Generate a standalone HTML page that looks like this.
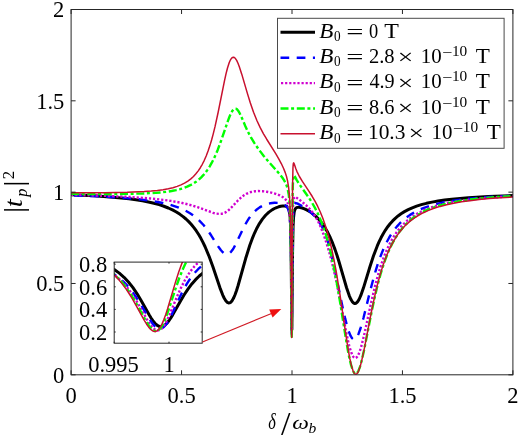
<!DOCTYPE html>
<html><head><meta charset="utf-8"><style>
html,body{margin:0;padding:0;background:#fff;}
svg{display:block;}
text{font-family:"Liberation Serif","DejaVu Serif",serif;fill:#000;}
</style></head><body>
<svg width="520" height="438" viewBox="0 0 520 438">
<rect width="520" height="438" fill="#fff"/>
<defs><clipPath id="cm"><rect x="71.1" y="9.50" width="441.80" height="365.30"/></clipPath>
<clipPath id="ci"><rect x="114.2" y="262.1" width="88.0" height="81.1"/></clipPath></defs>
<g clip-path="url(#cm)">
<polyline fill="none" stroke="#000" stroke-width="3" stroke-dashoffset="0" stroke-linejoin="round" points="71.10,194.85 94.07,195.86 113.07,197.15 128.98,198.76 135.93,199.70 142.45,200.76 148.42,201.93 153.94,203.22 159.13,204.68 163.88,206.25 168.30,207.99 172.49,209.93 176.36,212.03 180.00,214.34 183.10,216.61 185.97,219.01 188.73,221.64 191.38,224.50 193.92,227.60 196.35,230.95 198.67,234.53 200.88,238.33 202.98,242.33 205.08,246.73 209.16,256.53 212.81,266.57 219.88,287.59 222.75,295.06 224.40,298.51 225.95,300.94 227.39,302.38 228.16,302.80 228.82,302.94 229.60,302.85 230.37,302.48 231.14,301.84 231.92,300.92 233.46,298.31 235.12,294.48 236.55,290.43 238.10,285.49 245.72,258.32 249.81,245.29 252.13,238.91 254.56,233.03 256.99,227.95 259.42,223.60 262.40,219.14 265.60,215.28 268.92,212.15 272.45,209.61 274.44,208.50 276.54,207.54 278.64,206.80 280.73,206.27 282.72,205.98 284.49,205.95 285.93,206.18 287.03,206.66 287.80,207.31 288.47,208.28 289.01,209.61 289.44,211.36 290.09,216.46 290.55,224.55 290.86,235.78 291.12,251.81 291.84,329.69 292.55,252.82 293.09,225.94 293.52,217.71 294.12,212.49 294.51,210.73 294.99,209.40 295.53,208.49 296.31,207.78 297.30,207.38 298.63,207.27 300.28,207.48 302.27,208.00 304.48,208.82 306.69,209.84 309.01,211.12 311.22,212.56 315.08,215.61 318.62,219.12 321.93,223.16 325.13,227.90 327.68,232.36 330.22,237.53 332.65,243.21 334.97,249.36 337.06,255.53 339.16,262.25 346.56,287.75 349.32,295.83 350.87,299.32 352.31,301.69 353.08,302.57 353.74,303.09 354.40,303.40 355.07,303.47 355.73,303.32 356.39,302.96 357.06,302.37 357.83,301.43 359.26,298.99 360.81,295.48 363.57,287.60 370.09,266.19 373.51,255.81 377.27,245.97 379.15,241.68 381.13,237.58 383.23,233.71 385.44,230.08 387.76,226.72 390.08,223.76 392.62,220.91 395.27,218.32 398.03,215.98 401.01,213.79 404.44,211.63 408.19,209.62 412.28,207.79 416.59,206.17 421.34,204.67 426.42,203.34 431.94,202.14 438.01,201.05 444.64,200.07 451.82,199.20 468.39,197.71 488.49,196.52 512.90,195.56"/>
<polyline fill="none" stroke="#0000ff" stroke-width="2.4" stroke-dasharray="8.7 7.5" stroke-dashoffset="13.25" stroke-linejoin="round" points="71.10,195.36 92.53,196.11 110.86,197.01 126.44,198.09 139.91,199.37 151.51,200.90 161.56,202.70 170.28,204.83 174.26,206.04 178.02,207.36 184.09,209.97 186.96,211.45 189.61,213.00 192.26,214.74 194.69,216.53 197.01,218.44 199.33,220.56 203.53,225.03 207.62,230.21 211.26,235.52 218.22,246.49 220.98,250.31 222.53,252.03 223.96,253.24 225.29,253.97 226.61,254.27 228.05,254.06 229.49,253.29 231.03,251.84 232.58,249.80 233.90,247.65 235.45,244.77 242.96,228.94 244.95,225.08 246.94,221.57 249.26,217.95 251.58,214.84 254.01,212.08 256.44,209.80 259.64,207.41 262.95,205.57 266.60,204.16 270.35,203.25 274.55,202.81 278.64,202.95 280.51,203.25 282.17,203.66 283.61,204.20 284.82,204.85 286.15,205.90 287.14,207.12 287.91,208.55 288.58,210.41 289.12,212.77 289.57,215.71 290.24,223.98 290.69,235.82 291.03,253.27 291.81,333.04 292.54,240.65 292.82,223.04 293.19,212.28 293.71,206.36 294.07,204.67 294.53,203.63 295.09,203.13 295.87,203.04 296.97,203.36 298.74,204.18 303.38,206.81 307.46,209.58 311.11,212.56 314.42,215.84 317.40,219.44 320.05,223.35 322.37,227.53 324.58,232.39 326.35,237.06 328.01,242.15 329.77,248.38 331.54,255.39 334.85,270.16 343.03,309.26 345.13,318.42 346.89,325.31 348.88,331.74 350.65,335.97 351.53,337.48 352.42,338.56 353.30,339.19 354.07,339.36 354.85,339.19 355.62,338.67 356.39,337.82 357.17,336.66 358.71,333.43 360.48,328.49 363.46,317.98 370.42,289.88 374.06,276.23 376.16,269.14 378.15,262.96 380.14,257.32 382.24,251.92 384.45,246.81 386.66,242.23 389.09,237.75 391.52,233.79 394.06,230.12 396.82,226.62 399.69,223.44 402.67,220.56 406.21,217.61 410.07,214.86 414.16,212.40 418.58,210.15 423.33,208.12 428.41,206.30 433.93,204.65 440.00,203.14 446.52,201.81 453.59,200.62 461.32,199.55 469.82,198.59 479.10,197.74 489.26,196.98 512.90,195.72"/>
<polyline fill="none" stroke="#d000d0" stroke-width="2.4" stroke-dasharray="2.2 1.9" stroke-dashoffset="0" stroke-linejoin="round" points="71.10,194.82 101.92,195.70 126.99,196.82 147.42,198.22 156.26,199.06 164.32,200.00 170.84,200.92 176.80,201.92 182.43,203.04 187.74,204.29 192.71,205.65 197.68,207.21 213.14,212.83 216.45,213.66 219.32,213.95 221.31,213.82 223.19,213.38 224.96,212.65 226.83,211.54 228.49,210.27 230.37,208.56 238.10,200.29 241.97,196.74 244.18,195.12 246.38,193.82 248.70,192.77 251.13,191.98 254.56,191.31 258.20,191.05 262.29,191.19 266.60,191.71 271.35,192.65 275.76,193.89 279.63,195.36 282.61,196.94 284.49,198.34 285.93,199.85 287.03,201.54 287.91,203.56 288.58,205.83 289.17,208.92 289.62,212.59 289.99,217.14 290.54,229.57 290.94,248.48 291.77,335.74 292.43,240.66 292.89,210.80 293.26,202.83 293.78,198.57 294.13,197.50 294.57,196.95 295.15,196.86 295.98,197.20 301.39,201.27 306.03,205.20 309.56,208.73 312.65,212.47 315.42,216.54 318.07,221.32 320.61,226.83 323.26,233.54 326.13,241.88 328.89,250.94 331.54,260.69 334.08,271.13 336.18,280.61 338.39,291.38 346.23,332.49 347.78,339.77 349.10,345.31 350.76,351.07 352.31,355.01 353.08,356.40 353.85,357.38 354.63,357.93 355.29,358.08 355.95,357.91 356.72,357.33 357.39,356.51 358.16,355.20 359.71,351.51 361.36,346.21 364.23,334.65 371.19,302.48 374.73,287.38 376.72,279.69 378.70,272.62 380.69,266.18 382.79,260.01 385.00,254.19 387.21,248.97 389.53,244.10 391.96,239.57 394.50,235.38 397.26,231.39 400.13,227.76 403.11,224.48 406.65,221.12 410.51,217.99 414.60,215.19 419.02,212.64 423.77,210.33 428.85,208.26 434.37,206.39 440.33,204.71 446.85,203.18 453.92,201.83 461.65,200.61 470.05,199.53 479.21,198.57 489.37,197.71 512.90,196.27"/>
<polyline fill="none" stroke="#00ff00" stroke-width="2.4" stroke-dasharray="8 2.6 3 2.7" stroke-dashoffset="0" stroke-linejoin="round" points="71.10,193.90 104.35,194.01 126.21,193.90 142.78,193.53 155.82,192.85 161.67,192.35 166.86,191.75 171.61,191.03 176.03,190.16 180.00,189.17 183.76,188.01 187.18,186.70 190.39,185.21 193.26,183.60 196.02,181.77 198.56,179.79 200.99,177.59 203.31,175.16 205.52,172.50 207.62,169.62 209.71,166.36 211.81,162.68 213.80,158.78 215.79,154.45 217.78,149.69 221.31,140.21 227.94,120.80 229.37,117.00 230.70,113.92 232.25,111.06 233.68,109.32 234.46,108.81 235.12,108.62 235.78,108.66 236.55,109.01 237.22,109.55 237.99,110.44 239.65,113.17 241.08,116.17 245.39,126.21 247.93,131.68 250.80,137.15 254.12,142.67 258.53,149.14 263.72,155.91 268.92,162.07 278.64,172.95 282.28,177.52 284.16,180.36 285.59,183.08 286.81,186.11 287.69,189.15 288.71,194.49 289.46,201.30 290.03,210.30 290.46,222.36 291.02,255.38 291.73,336.79 291.91,320.61 292.33,227.36 292.61,196.84 292.83,185.93 293.10,179.25 293.48,175.96 293.73,175.32 294.04,175.25 294.60,175.97 296.75,180.10 298.52,183.06 309.23,198.26 312.21,202.99 314.97,207.86 317.96,213.82 320.72,220.15 323.37,227.14 325.80,234.47 328.23,242.85 330.66,252.40 332.98,262.74 335.19,273.75 339.16,296.36 346.45,342.26 348.00,351.06 349.43,358.31 351.09,365.23 352.64,369.98 353.41,371.67 354.18,372.87 354.96,373.58 355.73,373.79 356.39,373.59 357.17,372.91 357.83,371.96 358.60,370.45 360.04,366.58 361.69,360.66 364.46,348.33 371.30,313.40 374.84,296.72 376.83,288.23 378.81,280.42 380.80,273.30 382.90,266.49 385.11,260.05 387.32,254.28 389.75,248.64 392.18,243.66 394.72,239.05 397.48,234.65 400.35,230.65 403.44,226.90 406.98,223.21 410.84,219.77 414.93,216.69 419.24,213.94 423.99,211.40 429.07,209.12 434.59,207.05 440.56,205.20 446.96,203.56 454.03,202.06 461.76,200.73 470.16,199.55 479.32,198.51 489.48,197.58 500.64,196.77 512.90,196.05"/>
<polyline fill="none" stroke="#c8102e" stroke-width="1.5" stroke-dashoffset="0" stroke-linejoin="round" points="71.10,192.80 104.46,192.69 127.21,192.32 144.22,191.62 151.18,191.12 157.36,190.50 163.10,189.72 168.30,188.78 172.93,187.67 177.13,186.38 181.00,184.86 184.53,183.13 187.85,181.10 190.83,178.86 193.48,176.45 195.91,173.82 198.23,170.85 200.33,167.71 202.31,164.27 204.30,160.31 206.18,156.01 208.06,151.10 209.83,145.86 211.59,139.98 213.25,133.85 215.02,126.65 218.11,112.50 224.52,80.56 226.06,73.66 227.50,68.05 229.26,62.57 230.15,60.51 230.92,59.10 231.69,58.09 232.58,57.40 233.46,57.22 234.35,57.53 235.45,58.55 236.66,60.43 237.99,63.23 239.32,66.68 241.75,74.16 247.38,93.38 250.36,102.96 253.56,112.20 256.88,120.50 260.08,127.43 263.50,133.86 266.71,139.24 275.87,153.82 278.75,158.78 281.29,163.55 283.50,168.20 285.26,172.62 286.59,176.82 287.58,181.02 288.58,187.15 289.37,195.16 289.95,205.12 290.39,218.16 290.98,253.18 291.71,337.44 291.87,323.40 292.27,226.22 292.54,187.44 292.96,167.76 293.27,163.89 293.46,163.07 293.70,162.91 294.19,163.81 295.76,168.46 296.86,171.30 299.40,176.50 302.38,181.43 309.01,191.33 311.99,196.02 314.97,201.14 317.73,206.46 320.28,211.98 322.71,217.99 325.02,224.51 327.12,231.21 329.44,239.63 331.76,249.28 333.97,259.72 336.18,271.47 339.94,294.37 347.00,342.25 348.55,351.64 349.88,358.75 351.42,365.60 352.97,370.59 353.74,372.32 354.40,373.37 355.07,374.02 355.84,374.27 356.50,374.06 357.17,373.47 357.83,372.51 358.49,371.20 359.93,367.28 361.47,361.64 364.12,349.56 370.75,315.04 374.29,298.06 376.27,289.44 378.26,281.55 380.25,274.37 382.24,267.87 384.45,261.37 386.66,255.57 389.09,249.91 391.52,244.91 394.06,240.30 396.82,235.91 399.69,231.91 402.67,228.30 406.21,224.60 410.07,221.15 414.16,218.07 418.58,215.25 423.33,212.70 428.52,210.37 434.04,208.29 440.11,206.40 446.63,204.72 453.70,203.22 461.43,201.86 469.93,200.65 479.21,199.57 489.37,198.61 500.53,197.76 512.90,197.01"/>
</g>
<g stroke="#262626" stroke-width="1" fill="none">
<rect x="71.1" y="9.50" width="441.80" height="365.30"/>
<line x1="71.10" y1="374.8" x2="71.10" y2="370.3"/><line x1="71.10" y1="9.50" x2="71.10" y2="14.00"/><line x1="71.1" y1="374.80" x2="75.6" y2="374.80"/><line x1="512.90" y1="374.80" x2="508.40" y2="374.80"/><line x1="181.55" y1="374.8" x2="181.55" y2="370.3"/><line x1="181.55" y1="9.50" x2="181.55" y2="14.00"/><line x1="71.1" y1="283.48" x2="75.6" y2="283.48"/><line x1="512.90" y1="283.48" x2="508.40" y2="283.48"/><line x1="292.00" y1="374.8" x2="292.00" y2="370.3"/><line x1="292.00" y1="9.50" x2="292.00" y2="14.00"/><line x1="71.1" y1="192.15" x2="75.6" y2="192.15"/><line x1="512.90" y1="192.15" x2="508.40" y2="192.15"/><line x1="402.45" y1="374.8" x2="402.45" y2="370.3"/><line x1="402.45" y1="9.50" x2="402.45" y2="14.00"/><line x1="71.1" y1="100.82" x2="75.6" y2="100.82"/><line x1="512.90" y1="100.82" x2="508.40" y2="100.82"/><line x1="512.90" y1="374.8" x2="512.90" y2="370.3"/><line x1="512.90" y1="9.50" x2="512.90" y2="14.00"/><line x1="71.1" y1="9.50" x2="75.6" y2="9.50"/><line x1="512.90" y1="9.50" x2="508.40" y2="9.50"/>
</g>
<text x="64.3" y="382.7" font-size="22.5" text-anchor="end">0</text>
<text x="64.3" y="291.4" font-size="22.5" text-anchor="end">0.5</text>
<text x="64.3" y="200.1" font-size="22.5" text-anchor="end">1</text>
<text x="64.3" y="108.7" font-size="22.5" text-anchor="end">1.5</text>
<text x="64.3" y="17.4" font-size="22.5" text-anchor="end">2</text>
<text x="71.1" y="402.6" font-size="22.5" text-anchor="middle">0</text>
<text x="181.6" y="402.6" font-size="22.5" text-anchor="middle">0.5</text>
<text x="292.0" y="402.6" font-size="22.5" text-anchor="middle">1</text>
<text x="402.5" y="402.6" font-size="22.5" text-anchor="middle">1.5</text>
<text x="512.9" y="402.6" font-size="22.5" text-anchor="middle">2</text>
<text x="107.2" y="339.9" font-size="22.5" text-anchor="end">0.2</text>
<text x="107.2" y="317.3" font-size="22.5" text-anchor="end">0.4</text>
<text x="107.2" y="294.7" font-size="22.5" text-anchor="end">0.6</text>
<text x="107.2" y="272.1" font-size="22.5" text-anchor="end">0.8</text>
<text x="113.5" y="371.5" font-size="22.5" text-anchor="middle">0.995</text>
<text x="169" y="371.5" font-size="22.5" text-anchor="middle">1</text>
<text transform="translate(268.22,429.17) scale(0.678,0.970)" font-size="24" font-style="italic">δ</text>
<text transform="translate(280.90,435.47) scale(1.425,1.426)" font-size="24">/</text>
<text transform="translate(292.22,429.22) scale(0.981,0.784)" font-size="24" font-style="italic">ω</text>
<text transform="translate(308.53,432.76) scale(0.968,0.906)" font-size="16" font-style="italic">b</text>
<text transform="translate(22.86,213.12) rotate(-90) scale(1.300,1.127)" font-size="24">|</text>
<text transform="translate(22.86,186.82) rotate(-90) scale(1.300,1.127)" font-size="24">|</text>
<text transform="translate(21.95,207.35) rotate(-90) scale(1.182,1.048)" font-size="24" font-style="italic">t</text>
<text transform="translate(26.67,196.75) rotate(-90) scale(1.017,0.978)" font-size="16" font-style="italic">p</text>
<text transform="translate(13.50,179.13) rotate(-90) scale(1.045,1.010)" font-size="16">2</text>
<rect x="277.5" y="18.3" width="226.6" height="130.0" fill="#fff" stroke="#4a4a4a" stroke-width="1"/>
<line x1="280.5" y1="32.3" x2="315" y2="32.3" stroke="#000" stroke-width="3"/>
<line x1="280.5" y1="57.7" x2="315" y2="57.7" stroke="#0000ff" stroke-width="2.4" stroke-dasharray="8.7 7.5"/>
<line x1="281" y1="83.1" x2="315" y2="83.1" stroke="#d000d0" stroke-width="2.4" stroke-dasharray="2.2 1.9"/>
<line x1="280.5" y1="108.5" x2="315" y2="108.5" stroke="#00ff00" stroke-width="2.4" stroke-dasharray="8 2.6 3 2.7"/>
<line x1="280.5" y1="133.8" x2="315" y2="133.8" stroke="#c8102e" stroke-width="1.5"/>
<text x="319.19" y="37.50" font-size="21" font-style="italic" textLength="14.12" lengthAdjust="spacingAndGlyphs">B</text>
<text x="333.90" y="41.20" font-size="14.5" textLength="6.61" lengthAdjust="spacingAndGlyphs">0</text>
<text x="346.38" y="38.90" font-size="21" textLength="17.21" lengthAdjust="spacingAndGlyphs">=</text>
<text x="369.10" y="37.50" font-size="21" textLength="9.20" lengthAdjust="spacingAndGlyphs">0</text>
<text x="384.17" y="37.50" font-size="21" textLength="14.63" lengthAdjust="spacingAndGlyphs">T</text>
<text x="319.19" y="62.60" font-size="21" font-style="italic" textLength="14.12" lengthAdjust="spacingAndGlyphs">B</text>
<text x="333.90" y="66.30" font-size="14.5" textLength="6.61" lengthAdjust="spacingAndGlyphs">0</text>
<text x="346.38" y="64.00" font-size="21" textLength="17.21" lengthAdjust="spacingAndGlyphs">=</text>
<text x="368.90" y="62.60" font-size="21" textLength="25.69" lengthAdjust="spacingAndGlyphs">2.8</text>
<text x="397.82" y="63.90" font-size="21" textLength="15.53" lengthAdjust="spacingAndGlyphs">×</text>
<text x="420.66" y="62.60" font-size="21" textLength="20.94" lengthAdjust="spacingAndGlyphs">10</text>
<text x="442.00" y="56.60" font-size="14.5" textLength="10.18" lengthAdjust="spacingAndGlyphs">−</text>
<text x="451.95" y="55.70" font-size="14.5" textLength="15.33" lengthAdjust="spacingAndGlyphs">10</text>
<text x="475.88" y="62.60" font-size="21" textLength="14.10" lengthAdjust="spacingAndGlyphs">T</text>
<text x="319.19" y="88.30" font-size="21" font-style="italic" textLength="14.12" lengthAdjust="spacingAndGlyphs">B</text>
<text x="333.90" y="92.00" font-size="14.5" textLength="6.61" lengthAdjust="spacingAndGlyphs">0</text>
<text x="346.38" y="89.70" font-size="21" textLength="17.21" lengthAdjust="spacingAndGlyphs">=</text>
<text x="369.41" y="88.30" font-size="21" textLength="25.22" lengthAdjust="spacingAndGlyphs">4.9</text>
<text x="397.82" y="89.60" font-size="21" textLength="15.53" lengthAdjust="spacingAndGlyphs">×</text>
<text x="420.66" y="88.30" font-size="21" textLength="20.94" lengthAdjust="spacingAndGlyphs">10</text>
<text x="442.00" y="82.30" font-size="14.5" textLength="10.18" lengthAdjust="spacingAndGlyphs">−</text>
<text x="451.95" y="81.40" font-size="14.5" textLength="15.33" lengthAdjust="spacingAndGlyphs">10</text>
<text x="475.88" y="88.30" font-size="21" textLength="14.10" lengthAdjust="spacingAndGlyphs">T</text>
<text x="319.19" y="113.50" font-size="21" font-style="italic" textLength="14.12" lengthAdjust="spacingAndGlyphs">B</text>
<text x="333.90" y="117.20" font-size="14.5" textLength="6.61" lengthAdjust="spacingAndGlyphs">0</text>
<text x="346.38" y="114.90" font-size="21" textLength="17.21" lengthAdjust="spacingAndGlyphs">=</text>
<text x="369.03" y="113.50" font-size="21" textLength="25.38" lengthAdjust="spacingAndGlyphs">8.6</text>
<text x="397.82" y="114.80" font-size="21" textLength="15.53" lengthAdjust="spacingAndGlyphs">×</text>
<text x="420.66" y="113.50" font-size="21" textLength="20.94" lengthAdjust="spacingAndGlyphs">10</text>
<text x="442.00" y="107.50" font-size="14.5" textLength="10.18" lengthAdjust="spacingAndGlyphs">−</text>
<text x="451.95" y="106.60" font-size="14.5" textLength="15.33" lengthAdjust="spacingAndGlyphs">10</text>
<text x="475.88" y="113.50" font-size="21" textLength="14.10" lengthAdjust="spacingAndGlyphs">T</text>
<text x="319.19" y="139.00" font-size="21" font-style="italic" textLength="14.12" lengthAdjust="spacingAndGlyphs">B</text>
<text x="333.90" y="142.70" font-size="14.5" textLength="6.61" lengthAdjust="spacingAndGlyphs">0</text>
<text x="346.38" y="140.40" font-size="21" textLength="17.21" lengthAdjust="spacingAndGlyphs">=</text>
<text x="367.92" y="139.00" font-size="21" textLength="37.52" lengthAdjust="spacingAndGlyphs">10.3</text>
<text x="408.62" y="140.30" font-size="21" textLength="15.53" lengthAdjust="spacingAndGlyphs">×</text>
<text x="431.46" y="139.00" font-size="21" textLength="20.94" lengthAdjust="spacingAndGlyphs">10</text>
<text x="452.80" y="133.00" font-size="14.5" textLength="10.18" lengthAdjust="spacingAndGlyphs">−</text>
<text x="462.75" y="132.10" font-size="14.5" textLength="15.33" lengthAdjust="spacingAndGlyphs">10</text>
<text x="486.68" y="139.00" font-size="21" textLength="14.10" lengthAdjust="spacingAndGlyphs">T</text>
<rect x="114.2" y="262.1" width="88.0" height="81.1" fill="#fff"/>
<g clip-path="url(#ci)">
<polyline fill="none" stroke="#000" stroke-width="3" stroke-linejoin="round" points="108.72,266.43 114.20,269.54 119.30,273.15 124.01,277.26 128.45,281.96 132.78,287.44 137.11,293.85 141.11,300.54 149.11,314.82 151.08,318.06 152.83,320.65 154.97,323.31 156.94,325.15 158.86,326.28 159.79,326.57 160.73,326.69 161.66,326.63 162.64,326.39 163.63,325.95 164.62,325.32 166.70,323.44 168.89,320.74 170.64,318.17 172.67,314.86 180.51,300.92 184.18,294.75 188.13,288.80 192.02,283.69 195.58,279.65 199.30,276.02 203.20,272.79 207.36,269.89"/>
<polyline fill="none" stroke="#0000ff" stroke-width="2.4" stroke-dasharray="8.7 7.5" stroke-linejoin="round" points="108.72,270.99 113.93,274.13 118.80,277.68 123.41,281.70 127.74,286.18 132.17,291.59 136.56,297.78 140.61,304.22 148.72,317.94 152.40,323.39 154.53,325.89 156.51,327.59 158.37,328.53 159.30,328.73 160.23,328.75 161.22,328.55 162.15,328.17 163.08,327.59 164.07,326.78 166.04,324.54 168.12,321.41 169.82,318.37 171.74,314.57 179.25,298.29 182.81,291.04 186.65,284.11 190.43,278.26 194.26,273.29 198.32,268.96 202.65,265.21 207.36,261.97"/>
<polyline fill="none" stroke="#d000d0" stroke-width="2.4" stroke-dasharray="2.2 1.9" stroke-linejoin="round" points="108.72,270.93 113.49,274.17 117.98,277.80 122.20,281.82 126.26,286.34 130.59,291.95 134.86,298.34 138.86,305.03 146.86,319.28 148.83,322.50 150.53,324.99 152.67,327.61 154.64,329.34 155.57,329.90 156.51,330.26 157.44,330.43 158.31,330.39 159.25,330.15 160.18,329.69 161.11,329.02 162.04,328.14 163.96,325.70 165.99,322.29 167.63,319.02 169.49,314.90 177.00,296.75 180.62,288.58 184.56,280.75 188.51,274.16 190.59,271.16 192.73,268.40 194.92,265.87 197.17,263.56 199.58,261.38 202.04,259.42 204.62,257.64 207.36,255.99"/>
<polyline fill="none" stroke="#00ff00" stroke-width="2.4" stroke-dasharray="8 2.6 3 2.7" stroke-linejoin="round" points="108.72,269.82 113.71,273.89 118.36,278.36 122.80,283.33 127.08,288.86 130.31,293.57 133.54,298.74 137.16,305.01 145.55,320.26 147.90,324.10 149.93,326.95 151.85,329.08 153.66,330.44 154.53,330.84 155.41,331.05 156.23,331.07 157.05,330.91 157.99,330.49 158.92,329.83 159.85,328.92 160.78,327.76 162.70,324.62 164.67,320.44 166.31,316.32 168.18,311.13 175.63,288.36 179.19,278.23 183.14,268.49 185.11,264.26 187.08,260.45 189.22,256.77 191.47,253.37 193.82,250.26 196.24,247.50 198.81,244.99 201.50,242.76 204.35,240.78 207.36,239.03"/>
<polyline fill="none" stroke="#c8102e" stroke-width="1.5" stroke-linejoin="round" points="108.72,269.89 113.38,274.05 117.82,278.62 122.04,283.61 126.15,289.15 129.22,293.74 132.28,298.72 135.90,305.04 144.29,320.33 146.64,324.21 148.72,327.17 150.75,329.45 152.67,330.89 153.60,331.29 154.48,331.47 155.35,331.45 156.23,331.21 157.22,330.67 158.15,329.90 159.08,328.86 160.01,327.56 161.93,324.10 163.96,319.36 165.66,314.67 167.52,308.93 175.03,283.59 178.64,272.26 180.62,266.68 182.59,261.59 184.56,256.97 186.54,252.84 188.73,248.77 191.03,245.04 193.39,241.75 195.91,238.74 198.54,236.10 201.28,233.79 204.24,231.74 207.36,229.98"/>
</g>
<g stroke="#262626" stroke-width="1" fill="none">
<rect x="114.2" y="262.1" width="88.0" height="81.1"/>
<line x1="114.2" y1="332.0" x2="115.7" y2="332.0"/><line x1="202.2" y1="332.0" x2="200.7" y2="332.0"/><line x1="114.2" y1="309.4" x2="115.7" y2="309.4"/><line x1="202.2" y1="309.4" x2="200.7" y2="309.4"/><line x1="114.2" y1="286.8" x2="115.7" y2="286.8"/><line x1="202.2" y1="286.8" x2="200.7" y2="286.8"/><line x1="114.2" y1="264.2" x2="115.7" y2="264.2"/><line x1="202.2" y1="264.2" x2="200.7" y2="264.2"/><line x1="114.2" y1="343.2" x2="114.2" y2="341.7"/><line x1="114.2" y1="262.1" x2="114.2" y2="263.6"/><line x1="169.0" y1="343.2" x2="169.0" y2="341.7"/><line x1="169.0" y1="262.1" x2="169.0" y2="263.6"/>
</g>
<line x1="202.5" y1="341.9" x2="271.5" y2="313.4" stroke="#d01a24" stroke-width="1.1"/>
<polygon points="281.3,309.1 269.2,309.4 272.6,317.6" fill="#ee1010"/>
</svg>
</body></html>
